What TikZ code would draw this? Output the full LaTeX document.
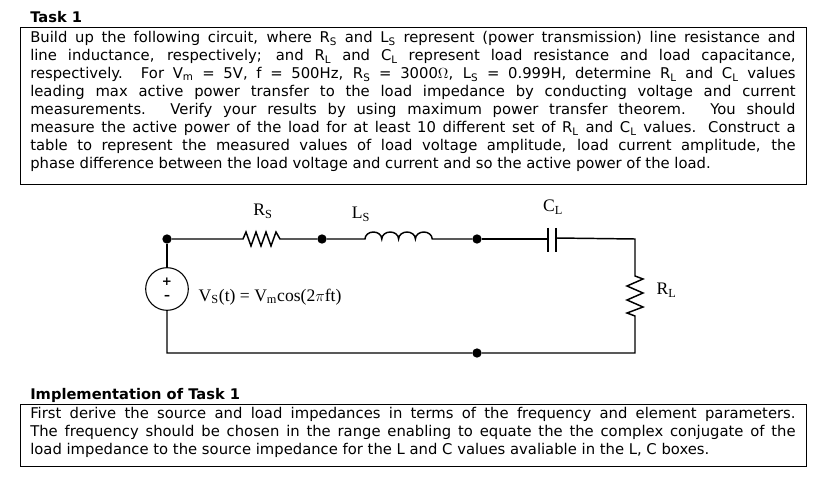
\documentclass[tikz,border=0pt]{standalone}
\usepackage{fontspec}
\setmainfont{DejaVu Sans}
\newfontfamily\ckt{Liberation Serif}
\begin{document}
\begin{tikzpicture}[x=0.75pt,y=-0.75pt,
    wire/.style={line width=1.1pt},
    dot/.style={circle, fill=black, inner sep=0pt, minimum size=7pt},
    para/.style={anchor=north west, inner sep=0pt, align=justify, text width=574pt, font=\fontsize{11.1}{13.5}\selectfont},
    ttl/.style={anchor=west, inner sep=0pt, font=\bfseries\fontsize{11}{12}\selectfont},
    lbl/.style={font=\ckt\fontsize{13.2}{13}\selectfont}
]
\useasboundingbox (0,0) rectangle (818,481);
% task text
\node[ttl] (t1) at (30,17) {Task 1};
\draw[line width=0.6pt] (20,27) rectangle (806,184);
\node[para] (p1) at (30,31) {Build up the following circuit, where R\textsubscript{S} and L\textsubscript{S} represent (power transmission) line resistance and\linebreak
line inductance, respectively; and R\textsubscript{L} and C\textsubscript{L} represent load resistance and load capacitance,\linebreak
respectively. For V\textsubscript{m} = 5V, f = 500Hz, R\textsubscript{S} = 3000\(\Omega\), L\textsubscript{S} = 0.999H, determine R\textsubscript{L} and C\textsubscript{L} values\linebreak
leading max active power transfer to the load impedance by conducting voltage and current\linebreak
measurements. Verify your results by using maximum power transfer theorem. You should\linebreak
measure the active power of the load for at least 10 different set of R\textsubscript{L} and C\textsubscript{L} values. Construct a\linebreak
table to represent the measured values of load voltage amplitude, load current amplitude, the\linebreak
phase difference between the load voltage and current and so the active power of the load.};
% implementation
\node[ttl] (t2) at (30,395) {Implementation of Task 1};
\draw[line width=0.6pt] (20,404) rectangle (806,466);
\node[para] (p2) at (30,407) {First derive the source and load impedances in terms of the frequency and element parameters.\linebreak
The frequency should be chosen in the range enabling to equate the the complex conjugate of the\linebreak
load impedance to the source impedance for the L and C values avaliable in the L, C boxes.};
% circuit nodes
\node[dot] (a) at (167,239) {};
\node[dot] (b) at (322,239) {};
\node[dot] (c) at (477,239) {};
\node[dot] (d) at (477,353) {};
\coordinate (tr) at (635,239);
\coordinate (br) at (635,353);
\coordinate (bl) at (167,353);
\node[circle, draw, line width=0.8pt, minimum size=32pt, inner sep=0pt] (src) at (167,289) {};
\node[font=\bfseries\small] at (167,282) {+};
\node[font=\bfseries\small] at (167,297) {\textendash};
% top: Rs
\draw[wire] (a) -- (243,239) -- (246,232) -- (251,246) -- (256,232) -- (261,246) -- (266,232) -- (271,246) -- (276,232) -- (280,239) -- (b);
% Ls
\draw[wire] (b) -- (365,239)
  arc[start angle=180, end angle=360, x radius=8.4, y radius=7]
  arc[start angle=180, end angle=360, x radius=8.4, y radius=7]
  arc[start angle=180, end angle=360, x radius=8.4, y radius=7]
  arc[start angle=180, end angle=360, x radius=8.4, y radius=7] -- (c);
% CL
\draw[wire] (c) -- (548,239);
\draw[line width=2pt] (548,228) -- (548,252) (556,228) -- (556,252);
\draw[wire] (556,238) -- (tr) -- (635,276) -- (643,279) -- (627,286) -- (643,293) -- (627,300) -- (643,307) -- (627,313) -- (635,316) -- (br) -- (d) -- (bl) -- (src.south);
\draw[wire] (src.north) -- (a);
% labels
\node[lbl] (lrs) at (263,211) {R\textsubscript{S}};
\node[lbl] (lls) at (361,214) {L\textsubscript{S}};
\node[lbl] (lcl) at (553,207) {C\textsubscript{L}};
\node[lbl, anchor=west] (lrl) at (652,290) {R\textsubscript{L}};
\node[lbl, anchor=west] (eq) at (194,297) {V\textsubscript{S}(t) = V\textsubscript{m}cos(2\(\pi\)ft)};
\end{tikzpicture}
\end{document}
